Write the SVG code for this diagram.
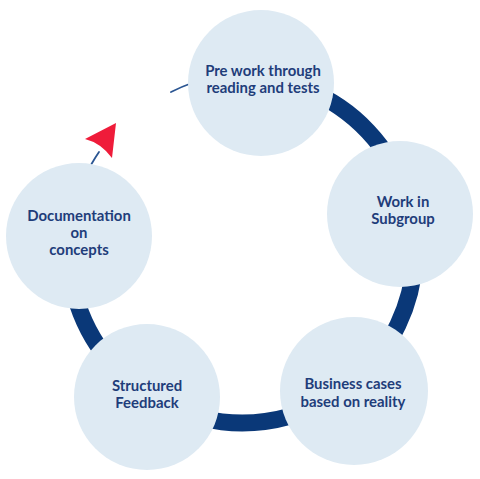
<svg xmlns="http://www.w3.org/2000/svg" width="480" height="479" viewBox="0 0 480 479">
<style>
.node{fill:#deeaf3;}
.lbl{font-family:Lato,"Open Sans","Liberation Sans",sans-serif;font-weight:bold;font-size:14.9px;fill:#1f3d7a;text-anchor:middle;}
.ring{fill:none;stroke:#0a3878;stroke-width:17;}
.thin{fill:none;stroke:#2a5592;stroke-width:1.8;stroke-linecap:round;}
</style>
<rect width="480" height="479" fill="#ffffff"/>
<g id="connectors">
<path class="ring" d="M 242 77 A 173 173 0 1 1 71.6 220"/>
<path class="thin" d="M 91.5 164 A 173 173 0 0 1 99 152"/>
<path class="thin" d="M 171 92 A 173 173 0 0 1 192 83"/>
<path d="M116,123 L112,158 Q101,143 85,139 Z" fill="#ef1c3a"/>
</g>
<g id="node-prework">
<circle class="node" cx="261" cy="83" r="73"/>
<text class="lbl" x="263" y="76">Pre work through</text>
<text class="lbl" x="263" y="93">reading and tests</text>
</g>
<g id="node-subgroup">
<circle class="node" cx="400" cy="214" r="73"/>
<text class="lbl" x="403" y="207">Work in</text>
<text class="lbl" x="403" y="224">Subgroup</text>
</g>
<g id="node-business">
<circle class="node" cx="354" cy="391" r="74"/>
<text class="lbl" x="353" y="389">Business cases</text>
<text class="lbl" x="353" y="407">based on reality</text>
</g>
<g id="node-feedback">
<circle class="node" cx="147" cy="397" r="73"/>
<text class="lbl" x="147" y="391">Structured</text>
<text class="lbl" x="147" y="408">Feedback</text>
</g>
<g id="node-documentation">
<circle class="node" cx="79" cy="236" r="73"/>
<text class="lbl" x="79" y="221">Documentation</text>
<text class="lbl" x="79" y="238">on</text>
<text class="lbl" x="79" y="255">concepts</text>
</g>
</svg>
